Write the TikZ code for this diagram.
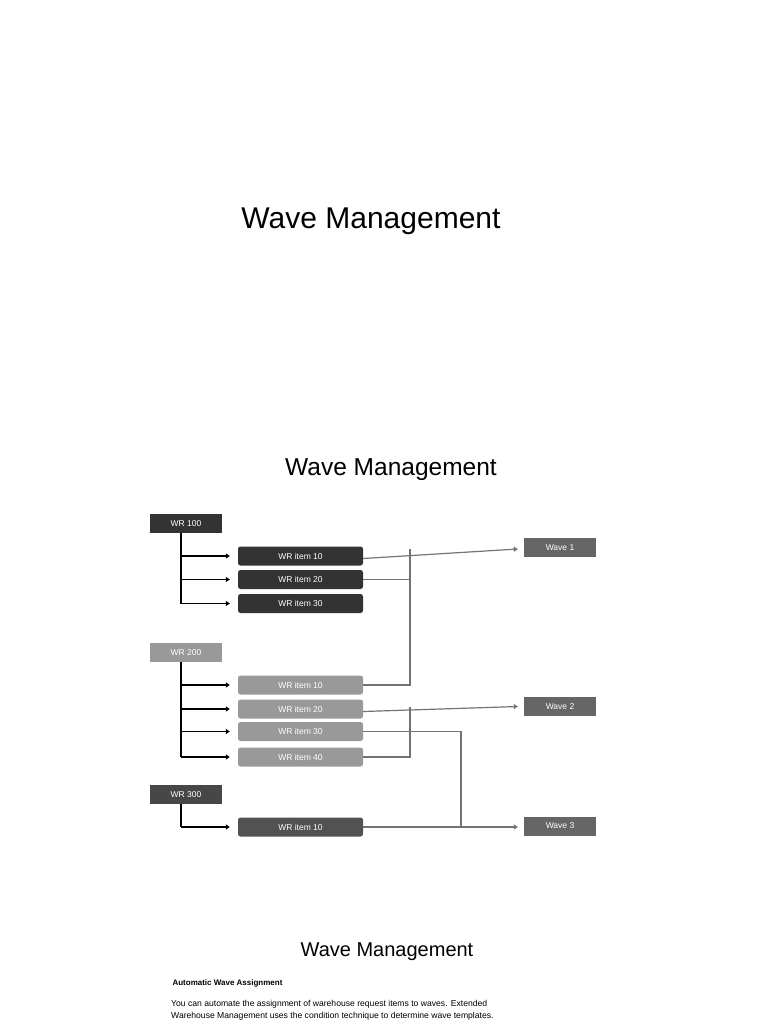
\documentclass[tikz,border=0pt]{standalone}
\usepackage{fontspec}
\setmainfont{Liberation Sans}
\usetikzlibrary{arrows.meta}
\begin{document}
\begin{tikzpicture}[x=1pt,y=-1pt,
 hdr/.style={draw=none,minimum width=72pt,minimum height=19pt,inner sep=0pt,text=white,font=\fontsize{8.5}{10}\selectfont},
 item/.style={minimum width=125pt,minimum height=19pt,rounded corners=2.5pt,inner sep=0pt,text=white,font=\fontsize{8.5}{10}\selectfont},
 wave/.style={minimum width=72pt,minimum height=19pt,inner sep=0pt,text=white,fill=black!60,font=\fontsize{8.5}{10}\selectfont},
 lft/.style={black,line width=1.2pt,-{Triangle[length=4pt,width=5pt]}},
 rgt/.style={black!55,line width=1.2pt},
 rgta/.style={rgt,-{Triangle[length=4pt,width=5pt]}}]
\useasboundingbox (0,0) rectangle (768,1024);
\fill[white] (0,0) rectangle (768,1024);
\node (t1) at (371,221) {\fontsize{30}{34}\selectfont Wave Management};
\node (t2) at (391,470) {\fontsize{24.5}{28}\selectfont Wave Management};
\node (t3) at (387,952) {\fontsize{20}{24}\selectfont Wave Management};
\node[anchor=west,font=\bfseries\fontsize{8}{10}\selectfont] (h) at (169,983) {Automatic Wave Assignment};
\node[anchor=north west,align=left,inner sep=0pt,font=\fontsize{8.6}{12}\selectfont] (b) at (171,1000) {You can automate the assignment of warehouse request items to waves. Extended\\Warehouse Management uses the condition technique to determine wave templates.};
% headers
\node[hdr,fill=black!80] (w1) at (186,523.5) {WR 100};
\node[hdr,fill=black!40] (w2) at (186,652.5) {WR 200};
\node[hdr,fill=black!72] (w3) at (186,794.5) {WR 300};
% items
\node[item,fill=black!80] (a1) at (300.5,556) {WR item 10};
\node[item,fill=black!80] (a2) at (300.5,579.5) {WR item 20};
\node[item,fill=black!80] (a3) at (300.5,603.5) {WR item 30};
\node[item,fill=black!40] (b1) at (300.5,685) {WR item 10};
\node[item,fill=black!40] (b2) at (300.5,709) {WR item 20};
\node[item,fill=black!40] (b3) at (300.5,731.5) {WR item 30};
\node[item,fill=black!40] (b4) at (300.5,757) {WR item 40};
\node[item,fill=black!68] (c1) at (300.5,827) {WR item 10};
% waves
\node[wave] (v1) at (560,547.5) {Wave 1};
\node[wave] (v2) at (560,706.5) {Wave 2};
\node[wave] (v3) at (560,826) {Wave 3};
% left connectors
\draw[black,line width=1.2pt] (w1.south -| 181,0) -- (181,603.5);
\foreach \n in {a1,a2,a3}{\draw[lft] (181,0 |- \n.west) -- ([xshift=-8pt]\n.west);}
\draw[black,line width=1.2pt] (w2.south -| 181,0) -- (181,757);
\foreach \n in {b1,b2,b3,b4}{\draw[lft] (181,0 |- \n.west) -- ([xshift=-8pt]\n.west);}
\draw[black,line width=1.2pt] (w3.south -| 181,0) -- (181,827);
\draw[lft] (181,827) -- ([xshift=-8pt]c1.west);
% right connectors
\draw[rgta] ([yshift=-2.5pt]a1.east) -- ([xshift=-6pt]v1.west |- 0,549);
\draw[rgt] (a2.east) -- (410,579.5) (410,549) -- (410,685) -- (b1.east);
\draw[rgta] ([yshift=-2.5pt]b2.east) -- ([xshift=-6pt]v2.west |- 0,706.5);
\draw[rgt] (410,706.5) -- (410,757) -- (b4.east);
\draw[rgt] (b3.east) -- (461,731.5) -- (461,827);
\draw[rgta] (c1.east) -- ([xshift=-6pt]v3.west |- 0,827);
\end{tikzpicture}
\end{document}
